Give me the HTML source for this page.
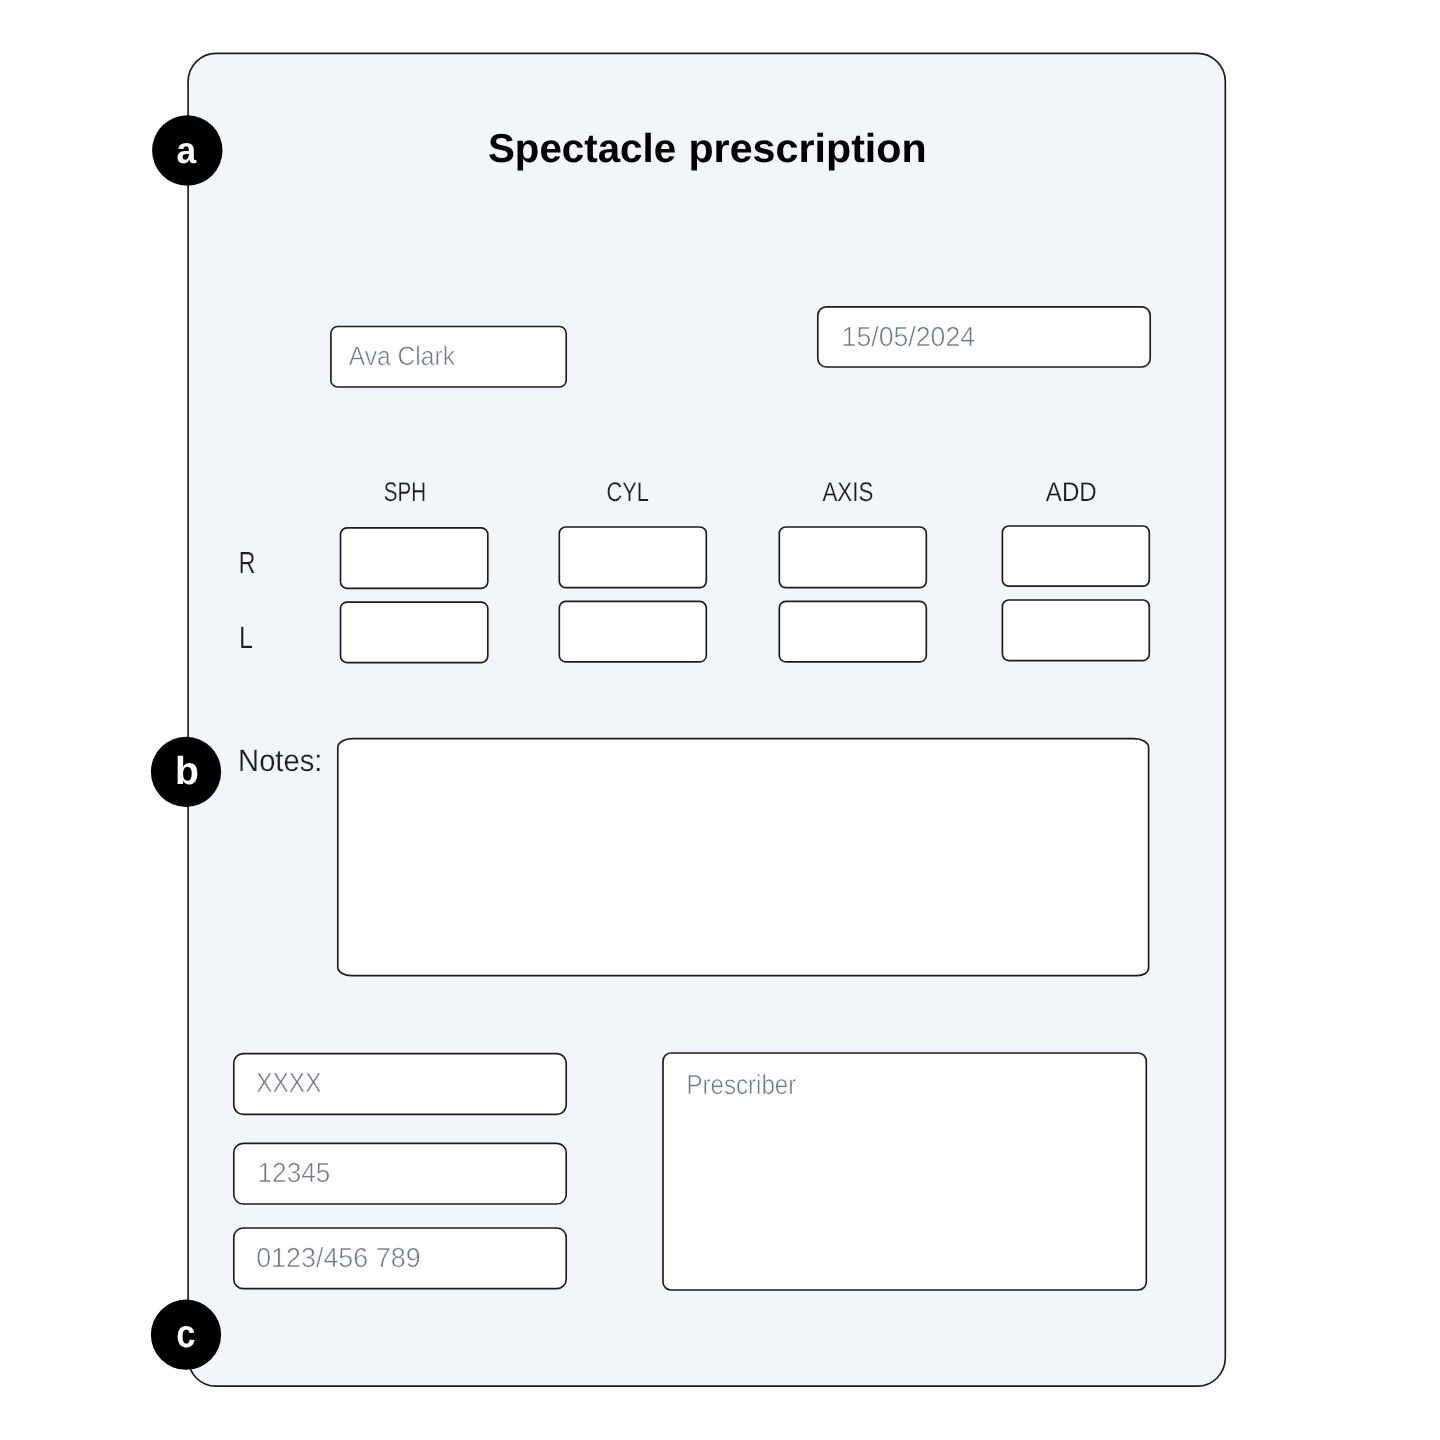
<!DOCTYPE html>
<html lang="en">
<head>
<meta charset="utf-8">
<title>Spectacle prescription</title>
<style>
html,body{margin:0;padding:0;background:#fff;}
body{width:1440px;height:1440px;overflow:hidden;font-family:"Liberation Sans",sans-serif;}
svg{display:block;position:absolute;left:0;top:0;will-change:transform;}
svg text{font-family:"Liberation Sans",sans-serif;white-space:pre;text-rendering:geometricPrecision;}
</style>
</head>
<body>
<svg width="1440" height="1440" viewBox="0 0 1440 1440">
<rect x="188.10" y="53.40" width="1037.20" height="1332.80" rx="28.10" ry="28.10" fill="#f2f5f9" stroke="#1d1d1b" stroke-width="1.67"/>
<circle cx="187.3" cy="150.5" r="35.2" fill="#000"/>
<text transform="translate(176.54 163.00) scale(0.9441 1)" font-size="37.40" font-weight="bold" fill="#fff">a</text>
<circle cx="186.0" cy="771.9" r="35.1" fill="#000"/>
<text transform="translate(175.05 784.00) scale(1.0044 1)" font-size="39.03" font-weight="bold" fill="#fff">b</text>
<circle cx="186.0" cy="1334.7" r="35.1" fill="#000"/>
<text transform="translate(176.22 1347.00) scale(0.8779 1)" font-size="39.26" font-weight="bold" fill="#fff">c</text>
<text transform="translate(487.99 162.00) scale(0.9971 1)" font-size="40.40" font-weight="bold" fill="#000">Spectacle</text>
<text transform="translate(688.42 162.00) scale(1.0208 1)" font-size="40.40" font-weight="bold" fill="#000">prescription</text>
<rect x="330.90" y="326.50" width="235.30" height="60.50" rx="6.80" ry="6.80" fill="#fff" stroke="#1d1d1b" stroke-width="1.67"/>
<text transform="translate(348.76 365.00) scale(0.9217 1)" font-size="26.69" fill="#6f7885" stroke="#fff" stroke-width="0.55" vector-effect="non-scaling-stroke" stroke-linejoin="round">Ava Clark</text>
<rect x="817.80" y="306.90" width="332.40" height="60.10" rx="8.50" ry="8.50" fill="#fff" stroke="#1d1d1b" stroke-width="1.67"/>
<text transform="translate(841.62 346.00) scale(0.9683 1)" font-size="27.56" fill="#6f7885" stroke="#fff" stroke-width="0.55" vector-effect="non-scaling-stroke" stroke-linejoin="round">15/05/2024</text>
<rect x="340.50" y="527.90" width="147.30" height="60.40" rx="6.50" ry="6.50" fill="#fff" stroke="#1d1d1b" stroke-width="1.67"/>
<rect x="340.50" y="602.10" width="147.30" height="60.50" rx="6.50" ry="6.50" fill="#fff" stroke="#1d1d1b" stroke-width="1.67"/>
<text transform="translate(383.78 501.00) scale(0.7584 1)" font-size="27.05" fill="#1d1d1b" stroke="#f2f5f9" stroke-width="0.2" vector-effect="non-scaling-stroke" stroke-linejoin="round">SPH</text>
<rect x="559.30" y="527.00" width="147.00" height="60.70" rx="6.50" ry="6.50" fill="#fff" stroke="#1d1d1b" stroke-width="1.67"/>
<rect x="559.30" y="601.40" width="147.00" height="60.50" rx="6.50" ry="6.50" fill="#fff" stroke="#1d1d1b" stroke-width="1.67"/>
<text transform="translate(606.51 501.00) scale(0.8057 1)" font-size="27.05" fill="#1d1d1b" stroke="#f2f5f9" stroke-width="0.2" vector-effect="non-scaling-stroke" stroke-linejoin="round">CYL</text>
<rect x="779.30" y="527.00" width="147.00" height="60.70" rx="6.50" ry="6.50" fill="#fff" stroke="#1d1d1b" stroke-width="1.67"/>
<rect x="779.30" y="601.40" width="147.00" height="60.50" rx="6.50" ry="6.50" fill="#fff" stroke="#1d1d1b" stroke-width="1.67"/>
<text transform="translate(822.44 501.00) scale(0.8254 1)" font-size="27.05" fill="#1d1d1b" stroke="#f2f5f9" stroke-width="0.2" vector-effect="non-scaling-stroke" stroke-linejoin="round">AXIS</text>
<rect x="1002.40" y="526.00" width="146.90" height="60.20" rx="6.50" ry="6.50" fill="#fff" stroke="#1d1d1b" stroke-width="1.67"/>
<rect x="1002.40" y="600.00" width="146.90" height="60.60" rx="6.50" ry="6.50" fill="#fff" stroke="#1d1d1b" stroke-width="1.67"/>
<text transform="translate(1045.84 501.00) scale(0.8889 1)" font-size="27.05" fill="#1d1d1b" stroke="#f2f5f9" stroke-width="0.2" vector-effect="non-scaling-stroke" stroke-linejoin="round">ADD</text>
<text transform="translate(238.79 573.00) scale(0.7570 1)" font-size="30.55" fill="#1d1d1b" stroke="#f2f5f9" stroke-width="0.2" vector-effect="non-scaling-stroke" stroke-linejoin="round">R</text>
<text transform="translate(238.94 648.00) scale(0.8107 1)" font-size="30.84" fill="#1d1d1b" stroke="#f2f5f9" stroke-width="0.2" vector-effect="non-scaling-stroke" stroke-linejoin="round">L</text>
<text transform="translate(238.10 771.00) scale(0.9451 1)" font-size="30.84" fill="#1d1d1b" stroke="#f2f5f9" stroke-width="0.2" vector-effect="non-scaling-stroke" stroke-linejoin="round">Notes:</text>
<path d="M352.30 738.70 H1134.10 A14.5 8.5 0 0 1 1148.60 747.20 V968.00 A11.5 7.7 0 0 1 1137.10 975.70 H351.80 A14.0 8.5 0 0 1 337.80 967.20 V747.20 A14.5 8.5 0 0 1 352.30 738.70 Z" fill="#fff" stroke="#1d1d1b" stroke-width="1.67"/>
<rect x="233.80" y="1053.60" width="332.40" height="60.70" rx="9.40" ry="9.40" fill="#fff" stroke="#1d1d1b" stroke-width="1.67"/>
<text transform="translate(256.28 1092.00) scale(0.8814 1)" font-size="27.71" fill="#6f7885" stroke="#fff" stroke-width="0.55" vector-effect="non-scaling-stroke" stroke-linejoin="round">XXXX</text>
<rect x="233.80" y="1143.40" width="332.40" height="60.60" rx="9.40" ry="9.40" fill="#fff" stroke="#1d1d1b" stroke-width="1.67"/>
<text transform="translate(257.51 1182.00) scale(0.9452 1)" font-size="27.71" fill="#6f7885" stroke="#fff" stroke-width="0.55" vector-effect="non-scaling-stroke" stroke-linejoin="round">12345</text>
<rect x="233.80" y="1228.00" width="332.40" height="60.60" rx="9.40" ry="9.40" fill="#fff" stroke="#1d1d1b" stroke-width="1.67"/>
<text transform="translate(256.15 1267.00) scale(0.9758 1)" font-size="27.56" fill="#6f7885" stroke="#fff" stroke-width="0.55" vector-effect="non-scaling-stroke" stroke-linejoin="round">0123/456 789</text>
<rect x="663.00" y="1053.00" width="483.30" height="237.00" rx="8.10" ry="8.10" fill="#fff" stroke="#1d1d1b" stroke-width="1.67"/>
<text transform="translate(686.49 1094.00) scale(0.8695 1)" font-size="27.71" fill="#6f7885" stroke="#fff" stroke-width="0.55" vector-effect="non-scaling-stroke" stroke-linejoin="round">Prescriber</text>
</svg>
</body>
</html>
